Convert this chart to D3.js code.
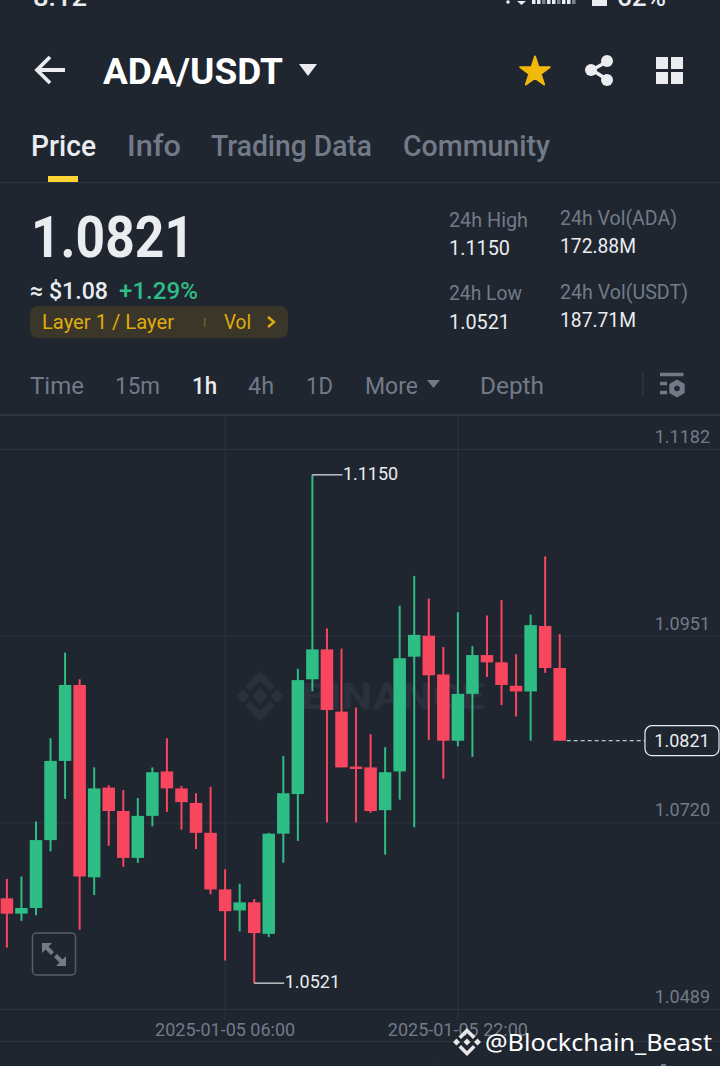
<!DOCTYPE html>
<html>
<head>
<meta charset="utf-8">
<script src="https://cdn.jsdelivr.net/npm/d3@7"></script>
<style>
  html, body { margin: 0; padding: 0; background: #1f2630; }
  svg { display: block; }
  text { font-family: Roboto, "Noto Sans", sans-serif; }
</style>
</head>
<body>
<div id="chart"></div>
<script>
const hours = [
  '2025-01-04 15:00', '2025-01-04 16:00', '2025-01-04 17:00', '2025-01-04 18:00', '2025-01-04 19:00',
  '2025-01-04 20:00', '2025-01-04 21:00', '2025-01-04 22:00', '2025-01-04 23:00', '2025-01-05 00:00',
  '2025-01-05 01:00', '2025-01-05 02:00', '2025-01-05 03:00', '2025-01-05 04:00', '2025-01-05 05:00',
  '2025-01-05 06:00', '2025-01-05 07:00', '2025-01-05 08:00', '2025-01-05 09:00', '2025-01-05 10:00',
  '2025-01-05 11:00', '2025-01-05 12:00', '2025-01-05 13:00', '2025-01-05 14:00', '2025-01-05 15:00',
  '2025-01-05 16:00', '2025-01-05 17:00', '2025-01-05 18:00', '2025-01-05 19:00', '2025-01-05 20:00',
  '2025-01-05 21:00', '2025-01-05 22:00', '2025-01-05 23:00', '2025-01-06 00:00', '2025-01-06 01:00',
  '2025-01-06 02:00', '2025-01-06 03:00', '2025-01-06 04:00', '2025-01-06 05:00'
]
const opens = [
  1.0626, 1.0607, 1.0614, 1.0698, 1.0796, 1.0890, 1.0652, 1.0763, 1.0734, 1.0676,
  1.0728, 1.0783, 1.0762, 1.0744, 1.0707, 1.0637, 1.0611, 1.0621, 1.0582, 1.0706,
  1.0755, 1.0897, 1.0934, 1.0857, 1.0789, 1.0788, 1.0735, 1.0783, 1.0925, 1.0951,
  1.0903, 1.0821, 1.0879, 1.0927, 1.0918, 1.0889, 1.0882, 1.0963, 1.0911
]
const highs = [
  1.0650, 1.0653, 1.0721, 1.0824, 1.0930, 1.0897, 1.0788, 1.0766, 1.0760, 1.0750,
  1.0788, 1.0824, 1.0765, 1.0756, 1.0764, 1.0662, 1.0644, 1.0625, 1.0707, 1.0802,
  1.0910, 1.1150, 1.0960, 1.0935, 1.0862, 1.0829, 1.0813, 1.0988, 1.1025, 1.0997,
  1.0937, 1.0980, 1.0938, 1.0976, 1.0995, 1.0928, 1.0977, 1.1049, 1.0953
]
const lows = [
  1.0565, 1.0598, 1.0605, 1.0684, 1.0749, 1.0587, 1.0630, 1.0691, 1.0665, 1.0670,
  1.0715, 1.0733, 1.0711, 1.0687, 1.0631, 1.0549, 1.0585, 1.0521, 1.0578, 1.0670,
  1.0697, 1.0882, 1.0720, 1.0788, 1.0720, 1.0732, 1.0680, 1.0748, 1.0714, 1.0822,
  1.0774, 1.0814, 1.0801, 1.0900, 1.0865, 1.0851, 1.0821, 1.0905, 1.0821
]
const closes = [
  1.0607, 1.0614, 1.0698, 1.0796, 1.0890, 1.0653, 1.0762, 1.0734, 1.0676, 1.0728,
  1.0782, 1.0762, 1.0745, 1.0707, 1.0637, 1.0610, 1.0621, 1.0583, 1.0706, 1.0756,
  1.0896, 1.0934, 1.0859, 1.0788, 1.0786, 1.0734, 1.0782, 1.0923, 1.0952, 1.0902,
  1.0821, 1.0879, 1.0927, 1.0918, 1.0890, 1.0882, 1.0964, 1.0911, 1.0821
]
const priceTicks = [1.1182, 1.0951, 1.0720, 1.0489]
const timeTicks = ['2025-01-05 06:00', '2025-01-05 22:00']

const WIDTH = 720
const HEIGHT = 1066
const UP = '#2ebd85'
const DOWN = '#f9465f'
const GRID = '#2e3540'
const MUTED = '#727a88'
const LIGHT = '#eaecef'

const svg = d3.select('#chart').append('svg')
  .attr('width', WIDTH)
  .attr('height', HEIGHT)

const label = (text, x1, x2, baseline, size, color, weight = 400) => svg.append('text')
  .attr('x', x1)
  .attr('y', baseline)
  .attr('textLength', x2 - x1)
  .attr('lengthAdjust', 'spacingAndGlyphs')
  .attr('font-size', size)
  .attr('font-weight', weight)
  .attr('fill', color)
  .text(text)

const xScale = d3.scaleBand()
  .domain(hours)
  .range([-1.4, 568])
  .padding(0.14)

const yScale = d3.scaleLinear()
  .domain([1.0489, 1.1182])
  .range([1009, 449])

const xc = d => xScale(d) + xScale.bandwidth() / 2

// status bar, cut off by the top of the screenshot
label('8:12', 33, 87, 6, 25, LIGHT, 500)
label('62%', 617, 666, 6, 25, LIGHT, 500)
svg.append('rect').attr('x', 592).attr('y', 0).attr('width', 15).attr('height', 6).attr('fill', LIGHT)
svg.append('circle').attr('cx', 508).attr('cy', 2).attr('r', 1.8).attr('fill', LIGHT)
svg.append('path').attr('d', 'M517 1H526L521.5 5Z').attr('fill', LIGHT)
svg.selectAll('.signal').data([532, 537, 542, 547, 552, 557, 562, 567, 572]).enter().append('rect')
  .attr('class', 'signal')
  .attr('x', d => d).attr('y', 0).attr('width', 3.5).attr('height', 4)
  .attr('fill', (d, i) => i % 3 === 2 ? '#7d838c' : LIGHT)

// header
svg.append('path')
  .attr('d', 'M65 70H38M50 57L37 70L50 83')
  .attr('fill', 'none').attr('stroke', LIGHT).attr('stroke-width', 3.8)
label('ADA/USDT', 103, 283, 84, 36, '#ffffff', 700)
svg.append('path').attr('d', 'M299 64H317L308 76Z').attr('fill', LIGHT)
svg.append('path')
  .attr('d', d3.symbol(d3.symbolStar, 270))
  .attr('transform', 'translate(535,72)')
  .attr('fill', '#f0b90b')
  .attr('stroke', '#f0b90b').attr('stroke-width', 2).attr('stroke-linejoin', 'round')
svg.append('path')
  .attr('d', 'M608 61L592 70L608 80')
  .attr('fill', 'none').attr('stroke', LIGHT).attr('stroke-width', 3.5)
svg.selectAll('.share').data([[607, 61], [591, 70], [607, 80]]).enter().append('circle')
  .attr('class', 'share')
  .attr('cx', d => d[0]).attr('cy', d => d[1]).attr('r', 6).attr('fill', LIGHT)
svg.selectAll('.tile').data([[656, 57], [671, 57], [656, 72], [671, 72]]).enter().append('rect')
  .attr('class', 'tile')
  .attr('x', d => d[0]).attr('y', d => d[1]).attr('width', 12).attr('height', 12).attr('fill', LIGHT)

// tabs
label('Price', 31, 96, 156, 29, LIGHT, 500)
label('Info', 127, 181, 156, 29, MUTED, 500)
label('Trading Data', 211, 372, 156, 29, MUTED, 500)
label('Community', 403, 550, 156, 29, MUTED, 500)
svg.append('rect').attr('x', 48).attr('y', 176).attr('width', 30).attr('height', 6).attr('fill', '#fcd535')
svg.append('rect').attr('x', 0).attr('y', 182).attr('width', WIDTH).attr('height', 1).attr('fill', GRID)

// price block
label('1.0821', 31, 194, 257, 58, LIGHT, 700)
label('≈ $1.08', 30, 108, 299, 24, LIGHT, 500)
label('+1.29%', 119, 198, 299, 24, UP, 500)
svg.append('rect').attr('x', 30).attr('y', 306).attr('width', 258).attr('height', 32).attr('rx', 8).attr('fill', '#3a3629')
label('Layer 1 / Layer', 42, 174, 329, 20, '#e0ac0c')
svg.append('rect').attr('x', 204).attr('y', 318).attr('width', 1.5).attr('height', 9).attr('fill', '#6e5f22')
label('Vol', 224, 251, 329, 20, '#e0ac0c')
svg.append('path').attr('d', 'M268 317L274 322L268 327').attr('fill', 'none').attr('stroke', '#e0ac0c').attr('stroke-width', 2.4)

label('24h High', 449, 528, 227, 20.5, MUTED)
label('1.1150', 449, 510, 255, 20.5, LIGHT)
label('24h Vol(ADA)', 560, 677, 225, 20.5, MUTED)
label('172.88M', 560, 636, 253, 20.5, LIGHT)
label('24h Low', 449, 522, 300, 20.5, MUTED)
label('1.0521', 449, 510, 329, 20.5, LIGHT)
label('24h Vol(USDT)', 560, 688, 299, 20.5, MUTED)
label('187.71M', 560, 636, 327, 20.5, LIGHT)

// interval bar
label('Time', 30, 84, 394, 24, MUTED)
label('15m', 115, 160, 394, 24, MUTED)
label('1h', 192, 217, 394, 24, LIGHT, 500)
label('4h', 248, 274, 394, 24, MUTED)
label('1D', 306, 333, 394, 24, MUTED)
label('More', 365, 418, 394, 24, MUTED)
svg.append('path').attr('d', 'M427 380H440L433.5 388Z').attr('fill', MUTED)
label('Depth', 480, 544, 394, 24, MUTED)
svg.append('rect').attr('x', 642).attr('y', 372).attr('width', 1.5).attr('height', 25).attr('fill', GRID)
svg.append('path')
  .attr('d', 'M660 374.5H683.5M660 383.5H667M660 392.5H667')
  .attr('stroke', MUTED).attr('stroke-width', 3.4)
svg.append('path')
  .attr('d', d3.line()(d3.range(6).map(i => [677 + 6 * Math.sin(i * Math.PI / 3), 388.5 + 6 * Math.cos(i * Math.PI / 3)])) + 'Z')
  .attr('fill', 'none').attr('stroke', MUTED).attr('stroke-width', 5)
svg.append('rect').attr('x', 0).attr('y', 414).attr('width', WIDTH).attr('height', 2).attr('fill', GRID)

// axes and grid
const yAxis = svg.append('g')
  .attr('class', 'price-axis')
  .call(d3.axisRight(yScale).tickValues(priceTicks).tickFormat(d3.format('.4f')).tickSize(WIDTH))
yAxis.select('.domain').remove()
yAxis.selectAll('line').attr('stroke', GRID)
yAxis.selectAll('text')
  .attr('x', 710).attr('dy', -6.5)
  .attr('text-anchor', 'end')
  .attr('font-size', 18)
  .attr('font-family', 'Roboto')
  .attr('fill', MUTED)

const xAxis = svg.append('g')
  .attr('class', 'time-axis')
  .attr('transform', 'translate(0,1020)')
  .call(d3.axisBottom(xScale).tickValues(timeTicks).tickSize(-604).tickPadding(0))
xAxis.select('.domain').remove()
xAxis.selectAll('line').attr('stroke', GRID)
xAxis.selectAll('text')
  .attr('y', 16).attr('dy', 0)
  .attr('font-size', 18)
  .attr('font-family', 'Roboto')
  .attr('fill', MUTED)
svg.append('rect').attr('x', 0).attr('y', 1041).attr('width', WIDTH).attr('height', 1).attr('fill', GRID)

// faint exchange watermark
const wm = svg.append('g').attr('transform', 'translate(260,696)').attr('fill', '#2a313c')
wm.append('path').attr('d', 'M0 -8L8 0L0 8L-8 0Z')
wm.append('path').attr('d', 'M-24 -0L-17 -7L-10 0L-17 7Z M24 0L17 -7L10 0L17 7Z')
wm.append('path').attr('d', 'M0 -25L15 -10L10 -5L0 -15L-10 -5L-15 -10Z M0 25L15 10L10 5L0 15L-10 5L-15 10Z')
label('BINANCE', 301, 485, 709, 36, '#2a313c', 700)

// candles
const rows = hours.map((hour, i) => ({
  hour, open: opens[i], high: highs[i], low: lows[i], close: closes[i]
}))
const color = d => d.close >= d.open ? UP : DOWN

svg.append('g').selectAll('line')
  .data(rows)
  .enter().append('line')
  .attr('x1', d => xc(d.hour))
  .attr('x2', d => xc(d.hour))
  .attr('y1', d => yScale(d.high))
  .attr('y2', d => yScale(d.low))
  .attr('stroke', color)
  .attr('stroke-width', 2)

svg.append('g').selectAll('rect')
  .data(rows)
  .enter().append('rect')
  .attr('x', d => xScale(d.hour))
  .attr('y', d => yScale(Math.max(d.open, d.close)))
  .attr('width', xScale.bandwidth())
  .attr('height', d => Math.max(2, Math.abs(yScale(d.open) - yScale(d.close))))
  .attr('fill', color)

// high / low callouts
const hiRow = rows[d3.greatestIndex(rows, d => d.high)]
const loRow = rows[d3.leastIndex(rows, d => d.low)]
const callout = (row, price) => {
  const x = xc(row.hour)
  const y = yScale(price)
  svg.append('path')
    .attr('d', `M${x} ${y}H${x + 30}`)
    .attr('stroke', LIGHT).attr('stroke-width', 1.2)
  svg.append('text')
    .attr('x', x + 30.5).attr('y', y + 5)
    .attr('font-size', 18)
    .attr('fill', LIGHT)
    .text(d3.format('.4f')(price))
}
callout(hiRow, hiRow.high)
callout(loRow, loRow.low)

// last price marker
const last = rows[rows.length - 1]
const lastY = yScale(last.close)
svg.append('line')
  .attr('x1', xc(last.hour) + 7).attr('x2', 645)
  .attr('y1', lastY).attr('y2', lastY)
  .attr('stroke', LIGHT).attr('stroke-width', 1).attr('stroke-dasharray', '4 3')
svg.append('rect')
  .attr('x', 645).attr('y', lastY - 15).attr('width', 74).attr('height', 30).attr('rx', 7)
  .attr('fill', '#1f2630').attr('stroke', LIGHT).attr('stroke-width', 1.2)
svg.append('text')
  .attr('x', 682).attr('y', lastY + 6.5)
  .attr('text-anchor', 'middle')
  .attr('font-size', 18)
  .attr('fill', LIGHT)
  .text(d3.format('.4f')(last.close))

// expand button
svg.append('rect')
  .attr('x', 32.5).attr('y', 933).attr('width', 43).attr('height', 42).attr('rx', 4)
  .attr('fill', 'none').attr('stroke', '#565d68').attr('stroke-width', 1.5)
svg.append('path')
  .attr('d', 'M42 943H52L48.5 946.5L54 952L51 955L45.5 949.5L42 953Z M66 966H56L59.5 962.5L54 957L57 954L62.5 959.5L66 956Z')
  .attr('fill', MUTED)

// repost watermark
const stamp = svg.append('g').attr('transform', 'translate(467,1042)').attr('fill', '#e8e8e8')
stamp.append('path').attr('d', 'M0 -3.5L3.5 0L0 3.5L-3.5 0Z')
stamp.append('path').attr('d', 'M-14 0L-10.5 -3.5L-7 0L-10.5 3.5Z M14 0L10.5 -3.5L7 0L10.5 3.5Z')
stamp.append('path').attr('d', 'M0 -14L8.5 -5.5L6 -3L0 -9L-6 -3L-8.5 -5.5Z M0 14L8.5 5.5L6 3L0 9L-6 3L-8.5 5.5Z')
label('@Blockchain_Beast', 485, 712, 1051, 24, '#ffffff', 400)
  .style('font-family', '"Noto Sans", sans-serif')
// bits of the next screen peeking in at the bottom edge
svg.append('rect').attr('x', 437).attr('y', 1063).attr('width', 1).attr('height', 3).attr('fill', GRID)
svg.append('rect').attr('x', 661).attr('y', 1064).attr('width', 5).attr('height', 2).attr('fill', MUTED)
</script>
</body>
</html>
